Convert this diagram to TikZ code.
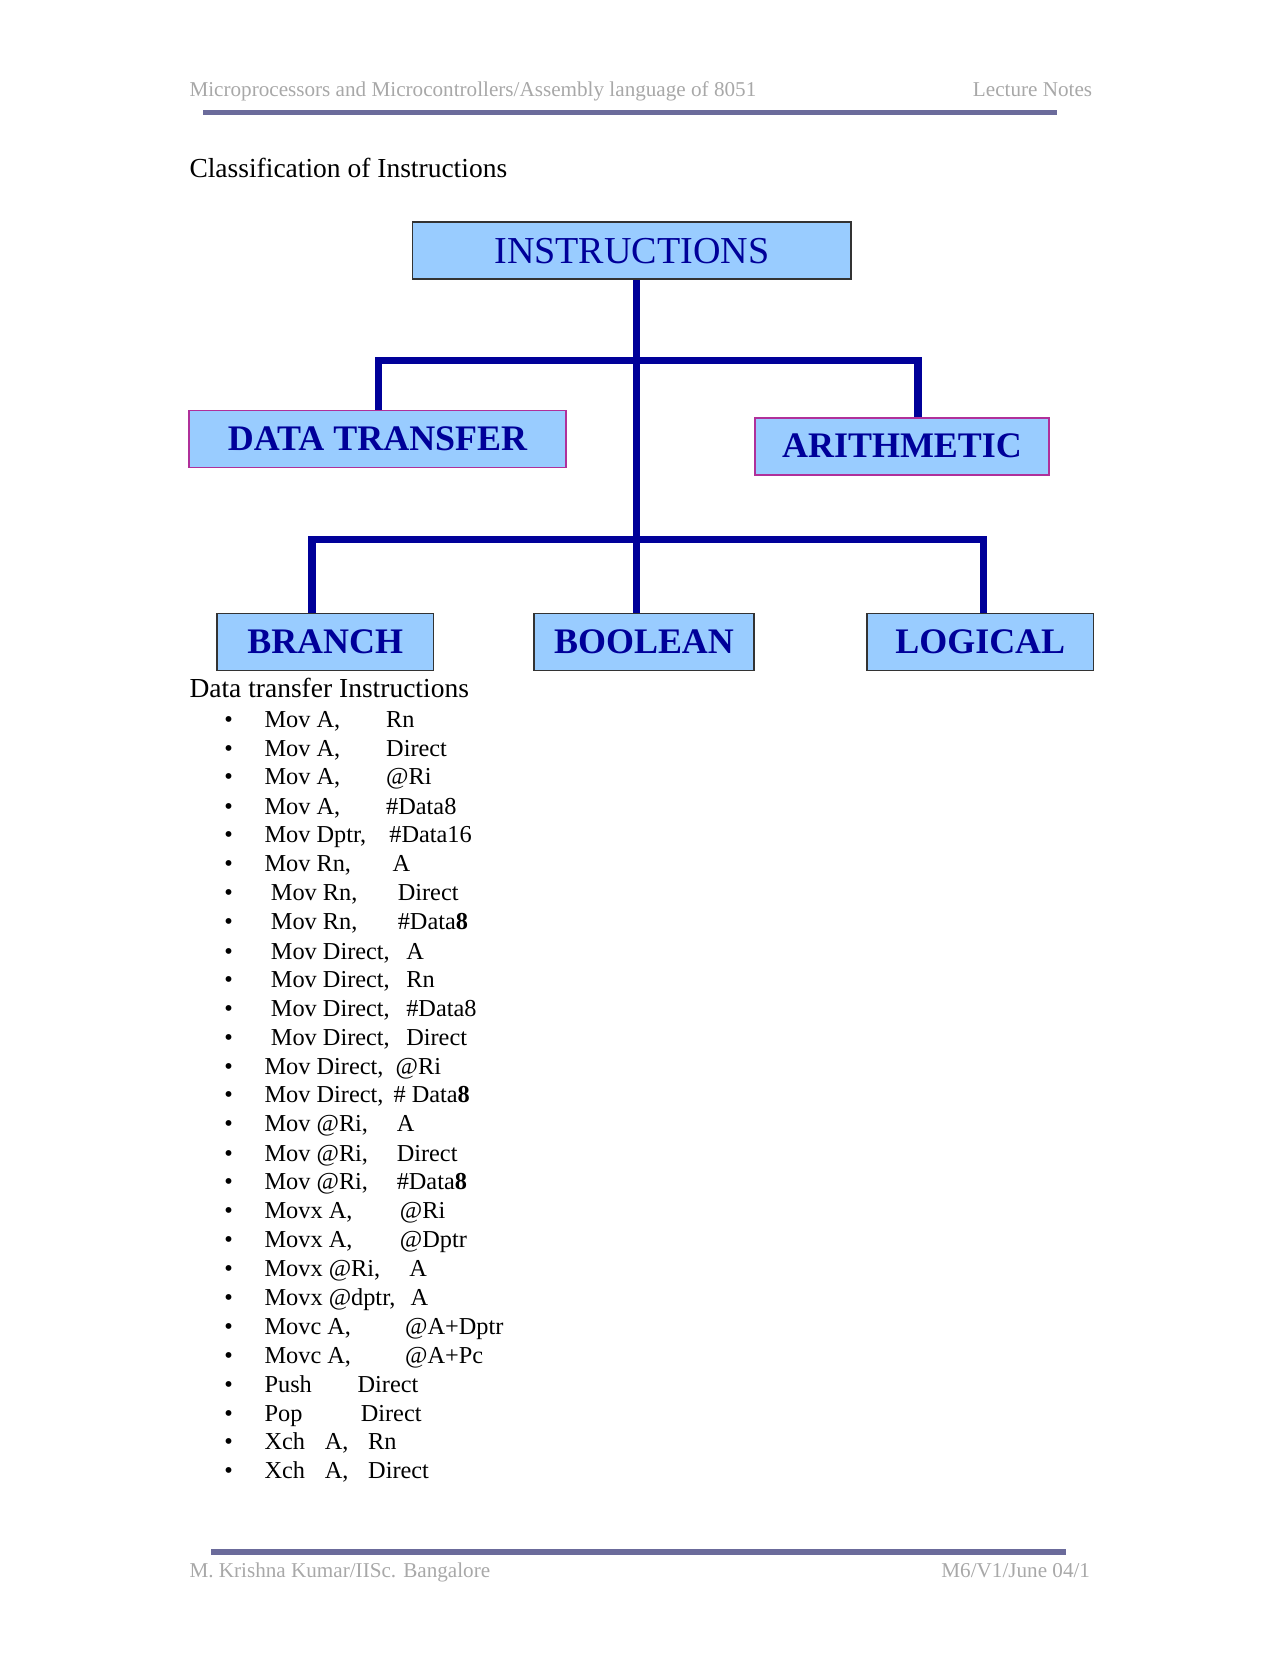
\documentclass[tikz,border=0pt]{standalone}
\usepackage{fontspec}
\setmainfont{Liberation Serif}
\definecolor{boxfill}{HTML}{99CCFF}
\definecolor{dblue}{HTML}{000099}
\definecolor{hgray}{HTML}{A8A8A8}
\definecolor{rule}{HTML}{6B6B9B}
\definecolor{mag}{HTML}{B0309A}
\begin{document}
\begin{tikzpicture}[x=1pt,y=-1pt,
  bx/.style={draw=black!80,line width=1.5pt,fill=boxfill},
  mbx/.style={draw=mag,line width=1.5pt,fill=boxfill},
  lbl/.style={text=dblue,font=\bfseries\fontsize{34}{36}\selectfont},
  conn/.style={draw=dblue,line width=7pt},
  it/.style={anchor=base west,inner sep=0pt,font=\fontsize{23}{25}\selectfont},
  hd/.style={anchor=base west,inner sep=0pt,text=hgray,font=\fontsize{20}{22}\selectfont}]
\useasboundingbox (0,0) rectangle (1210,1566);
% header/footer
\node[hd] (h1) at (179,91) {Microprocessors and Microcontrollers/Assembly language of 8051};
\node[hd,anchor=base east] (h2) at (1033,91) {Lecture Notes};
\fill[rule] (192,104) rectangle (1000,109);
\fill[rule] (200,1465) rectangle (1008,1470);
\node[hd] (f1) at (179,1492) {M. Krishna Kumar/IISc. Bangalore};
\node[hd,anchor=base east] (f2) at (1031,1492) {M6/V1/June 04/1};
\node[it,font=\fontsize{26}{28}\selectfont] (title) at (179,168) {Classification of Instructions};
% connectors
\coordinate (t1) at (602,264);
\coordinate (b3) at (602,580);
\draw[conn] (t1) -- (b3);
\draw[conn] (358,392) -- (358,341) -- (868,341) -- (868,398);
\draw[conn] (295,582) -- (295,510) -- (930,510) -- (930,582);
% boxes
\node[bx,minimum width=415pt,minimum height=54pt,inner sep=0pt] (ins) at (597.5,237) {};
\node[text=dblue,font=\fontsize{36}{38}\selectfont] at (ins) {INSTRUCTIONS};
\node[mbx,minimum width=356pt,minimum height=54pt,inner sep=0pt] (dt) at (357,415) {};
\node[lbl] at (dt) {DATA TRANSFER};
\node[mbx,minimum width=278pt,minimum height=54pt,inner sep=0pt] (ar) at (853,422) {};
\node[lbl] at (ar) {ARITHMETIC};
\node[bx,minimum width=205pt,minimum height=54pt,inner sep=0pt] (br) at (307.5,607) {};
\node[lbl] at (br) {BRANCH};
\node[bx,minimum width=208pt,minimum height=54pt,inner sep=0pt] (bo) at (609,607) {};
\node[lbl] at (bo) {BOOLEAN};
\node[bx,minimum width=214pt,minimum height=54pt,inner sep=0pt] (lo) at (927,607) {};
\node[lbl] at (lo) {LOGICAL};
% list
\node[it,font=\fontsize{26}{28}\selectfont] (sub) at (179,660) {Data transfer Instructions};
\foreach \n/\y/\xa/\a/\xb/\b in {
 1/688/250/{Mov A,}/365/Rn,
 2/715/250/{Mov A,}/365/Direct,
 3/742/250/{Mov A,}/365/@Ri,
 4/770/250/{Mov A,}/365/\#Data8,
 5/797/250/{Mov Dptr,}/368/\#Data16,
 6/824/250/{Mov Rn,}/371/A,
 7/852/256/{Mov Rn,}/376/Direct,
 8/879/256/{Mov Rn,}/376/{\#Data\textbf{8}},
 9/907/256/{Mov Direct,}/384/A,
 10/934/256/{Mov Direct,}/384/Rn,
 11/961/256/{Mov Direct,}/384/\#Data8,
 12/989/256/{Mov Direct,}/384/Direct,
 13/1016/250/{Mov Direct,}/374/@Ri,
 14/1043/250/{Mov Direct,}/372/{\# Data\textbf{8}},
 15/1070/250/{Mov @Ri,}/375/A,
 16/1098/250/{Mov @Ri,}/375/Direct,
 17/1125/250/{Mov @Ri,}/375/{\#Data\textbf{8}},
 18/1152/250/{Movx A,}/378/@Ri,
 19/1180/250/{Movx A,}/378/@Dptr,
 20/1207/250/{Movx @Ri,}/387/A,
 21/1235/250/{Movx @dptr,}/388/A,
 22/1262/250/{Movc A,}/383/@A+Dptr,
 23/1289/250/{Movc A,}/383/@A+Pc,
 24/1317/250/Push/338/Direct,
 25/1344/250/Pop/341/Direct}{
  \node[it] (bul\n) at (212,\y) {•};
  \node[it] (ia\n) at (\xa,\y) {\a};
  \node[it] (ib\n) at (\xb,\y) {\b};
}
\node[it] (bul26) at (212,1371) {•};
\node[it] (ia26) at (250,1371) {Xch};
\node[it] (ic26) at (307,1371) {A,};
\node[it] (ib26) at (348,1371) {Rn};
\node[it] (bul27) at (212,1398) {•};
\node[it] (ia27) at (250,1398) {Xch};
\node[it] (ic27) at (307,1398) {A,};
\node[it] (ib27) at (348,1398) {Direct};
\end{tikzpicture}
\end{document}
